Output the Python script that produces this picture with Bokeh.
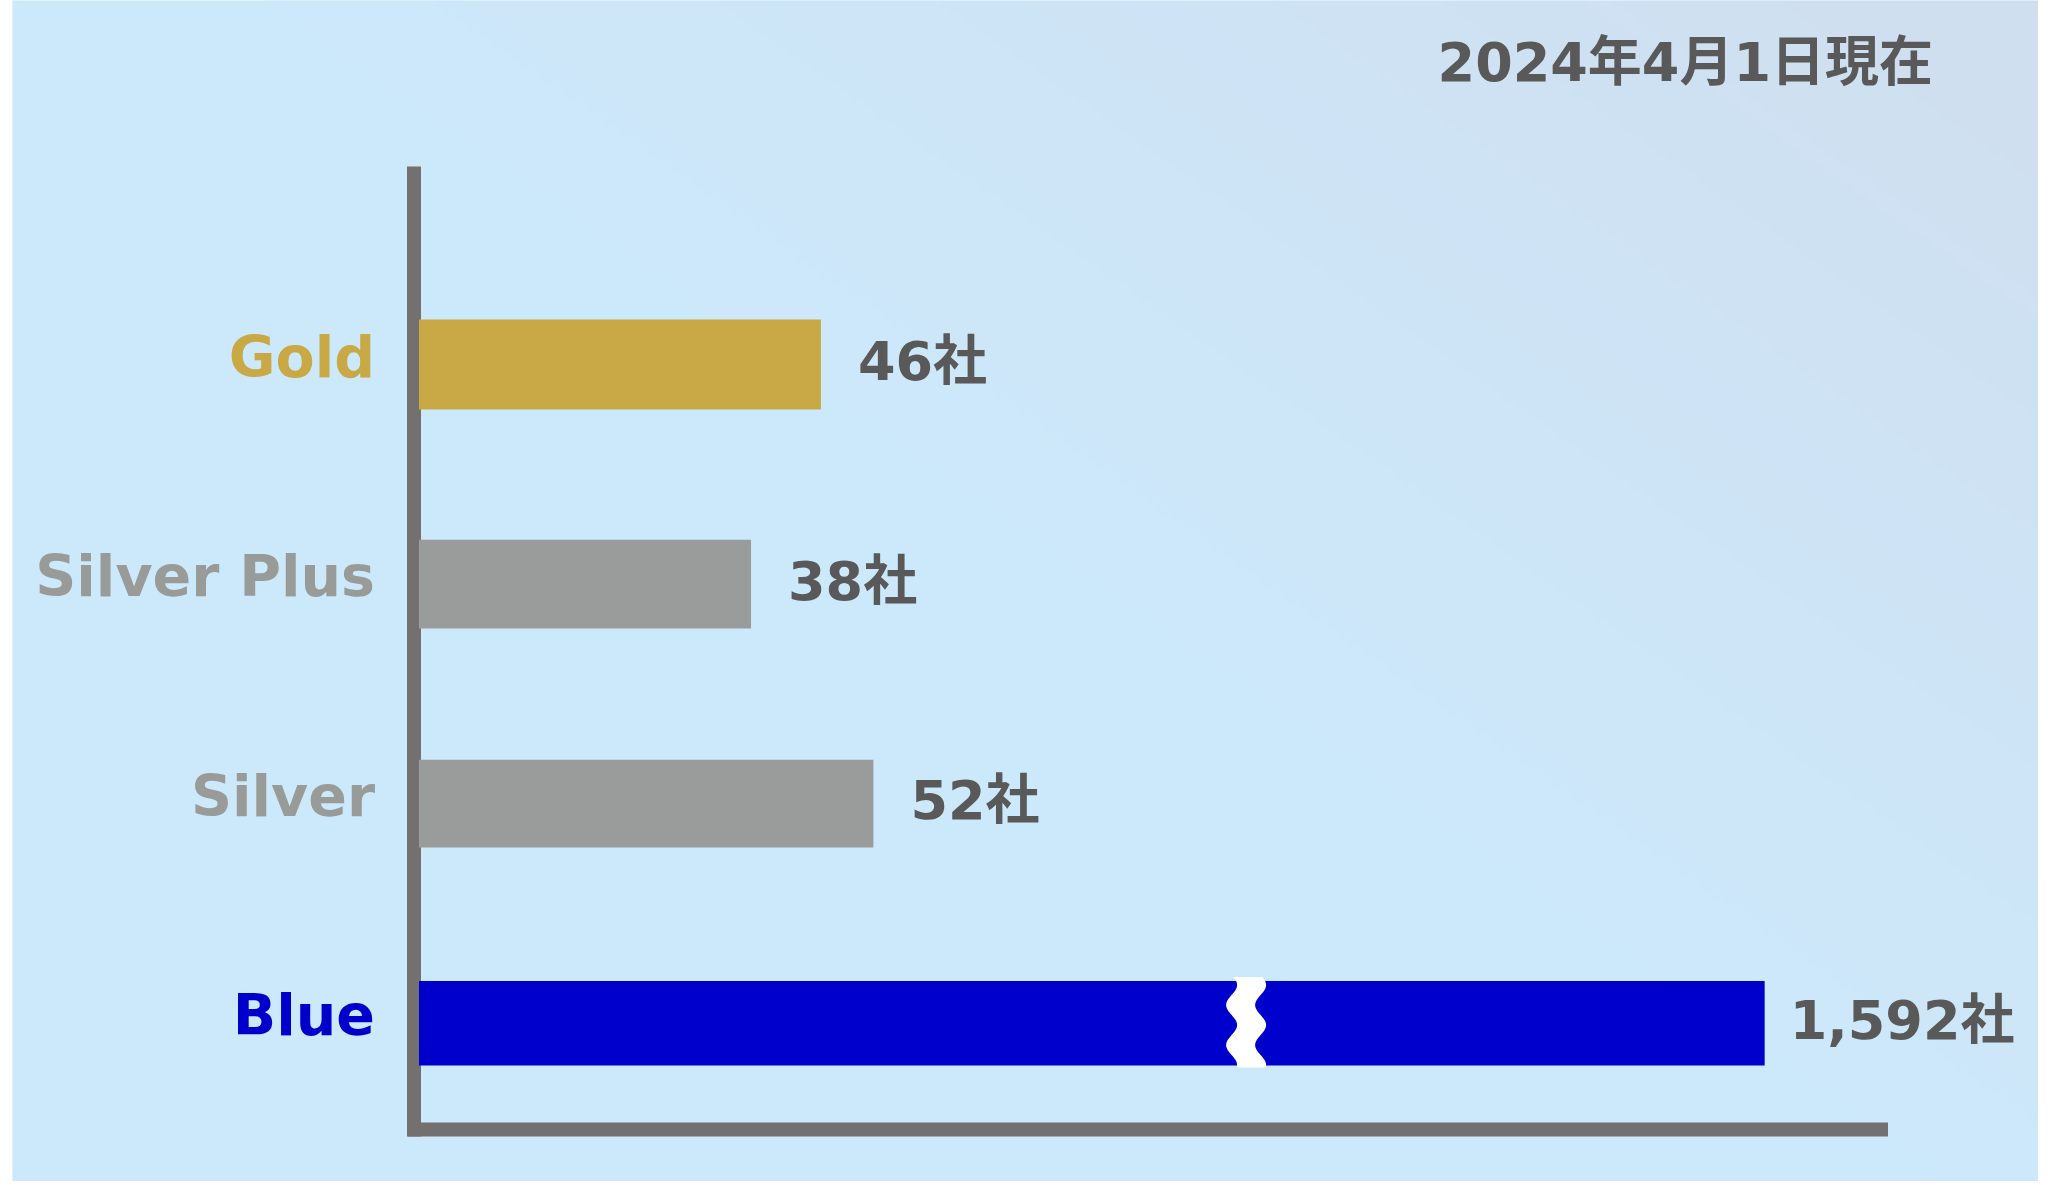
import numpy as np
from bokeh.plotting import figure
from bokeh.models import Range1d, ColumnDataSource
from bokeh.core.properties import value
from bokeh.embed import file_html
from bokeh.resources import INLINE

# ---------------- data ----------------
categories = ["Gold", "Silver Plus", "Silver", "Blue"]
counts = [46, 38, 52, 1592]
unit = "社"
title_text = "2024年4月1日現在"

# ---------------- styles ----------------
label_colors = ["#C9A846", "#999B99", "#999B99", "#0000CC"]
bar_colors = ["#C9A846", "#999C9A", "#999C9A", "#0000CC"]
bar_heights = [0.41, 0.405, 0.40, 0.385]
value_offsets = [37, 37, 37, 25]
TEXT_GRAY = "#595959"
AXIS_GRAY = "#757070"

# broken axis: values between BREAK_LOW and BREAK_HIGH are skipped
BREAK_LOW, BREAK_HIGH = 95, 1533


def shown(v):
    return v if v <= BREAK_LOW else BREAK_LOW + (v - BREAK_HIGH)


# ---------------- layout (page pixels -> data units) ----------------
W, H = 2038, 1181
BORDER_LEFT = 12
FRAME_LEFT_PAGE, FRAME_TOP_PAGE = 1.5 + BORDER_LEFT, 0.0
X0, PXU = 420.0, 8.738      # page x of value 0, pixels per unit
Y0, ROW = 364.0, 219.6      # page y of first row, pixels per row
n = len(categories)


def px2x(px):
    return (px - X0) / PXU


def px2y(py):
    return (n - 1) - (py - Y0) / ROW


xr = Range1d(px2x(FRAME_LEFT_PAGE), px2x(FRAME_LEFT_PAGE + W - BORDER_LEFT))
yr = Range1d(px2y(FRAME_TOP_PAGE + H), px2y(FRAME_TOP_PAGE))

p = figure(width=W, height=H, x_range=xr, y_range=yr,
           output_backend="svg", toolbar_location=None,
           x_axis_location=None, y_axis_location=None,
           min_border=0, min_border_left=BORDER_LEFT,
           border_fill_color="white", background_fill_color="#CCE9FB",
           outline_line_color=None)
p.grid.visible = False

# background gradient (decorative)
NR, NC = 200, 400
gx = np.linspace(0, 1, NC)
gy = np.linspace(0, 1, NR)
GX, GY = np.meshgrid(gx, gy)
t = np.clip(1.2 * GX + 1.0 * GY - 1.1, 0, 1)
c0 = np.array([204, 233, 251], dtype=float)
c1 = np.array([207, 223, 240], dtype=float)
rgb = c0[None, None, :] * (1 - t[..., None]) + c1[None, None, :] * t[..., None]
img = np.empty((NR, NC, 4), dtype=np.uint8)
img[..., :3] = np.round(rgb).astype(np.uint8)
img[..., 3] = 255
p.image_rgba(image=[img.view(np.uint32).reshape(NR, NC)],
             x=xr.start, y=yr.start, dw=xr.end - xr.start, dh=yr.end - yr.start)

# axis lines (decorative)
p.segment(x0=[px2x(415)], y0=[px2y(166)], x1=[px2x(415)], y1=[px2y(1136)],
          line_width=14, line_color=AXIS_GRAY, line_cap="butt")
p.segment(x0=[px2x(409)], y0=[px2y(1129)], x1=[px2x(1889)], y1=[px2y(1129)],
          line_width=14, line_color=AXIS_GRAY, line_cap="butt")

ypos = [n - 1 - i for i in range(n)]
src = ColumnDataSource(dict(
    y=ypos,
    right=[shown(v) for v in counts],
    h=bar_heights,
    color=bar_colors,
    label=[f"{v:,}{unit}" for v in counts],
    xoff=value_offsets,
))

p.hbar(y="y", left=0, right="right", height="h", fill_color="color",
       line_color=None, source=src)

# break marks on bars that exceed the break
for v, yy, hh in zip(counts, ypos, bar_heights):
    if v > BREAK_HIGH:
        cx = X0 + BREAK_LOW * PXU - 3
        cy = Y0 + (n - 1 - yy) * ROW
        half = hh * ROW / 2
        top, bot = cy - half - 4, cy + half + 2
        yy_px = np.linspace(top, bot, 80)
        left_edge = cx - 14.5 + 5.5 * np.cos(2 * np.pi * (yy_px - (top + 8)) / 40)
        right_edge = left_edge + 29
        xs = np.concatenate([left_edge, right_edge[::-1]])
        ys = np.concatenate([yy_px, yy_px[::-1]])
        p.patch(x=px2x(xs), y=px2y(ys), fill_color="white", line_color=None)

# category labels
p.text(x=[px2x(376)] * n, y=ypos, text=categories, text_color=label_colors,
       text_align="right", text_baseline="middle",
       text_font=value("DejaVu Sans"), text_font_style="bold",
       text_font_size="57px", y_offset=-8)

# value labels
p.text(x="right", y="y", text="label", x_offset="xoff", y_offset=-3,
       text_color=TEXT_GRAY, text_align="left", text_baseline="middle",
       text_font=value("DejaVu Sans, Noto Sans CJK JP"), text_font_style="bold",
       text_font_size="54px", source=src)

# date note
p.text(x=[px2x(1934)], y=[px2y(62)], text=[title_text], text_color=TEXT_GRAY,
       text_align="right", text_baseline="middle",
       text_font=value("DejaVu Sans, Noto Sans CJK JP"), text_font_style="bold",
       text_font_size="54px")

open("out.html", "w").write(file_html(p, INLINE))
